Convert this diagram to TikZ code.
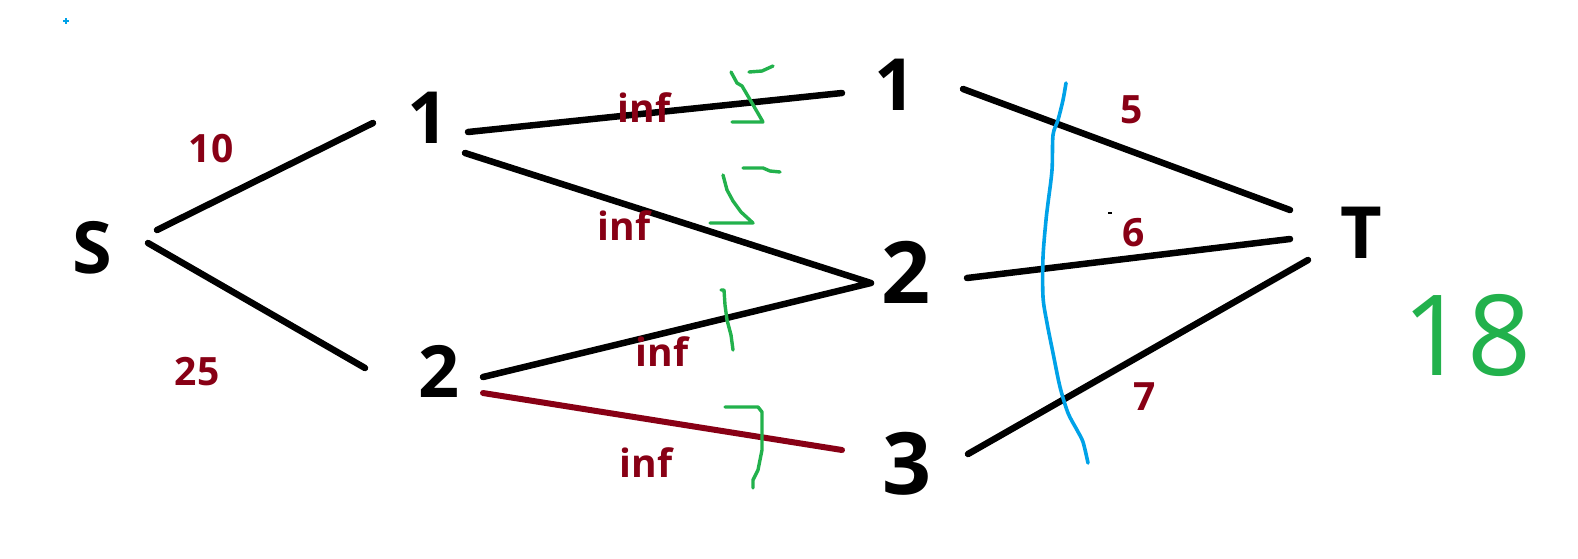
\documentclass[tikz,border=0pt]{standalone}
\usepackage{fontspec}
\setmainfont{Open Sans}
\definecolor{lab}{HTML}{880015}
\definecolor{mk}{HTML}{22B14C}
\definecolor{cut}{HTML}{00A2E8}
\tikzset{
  vtx/.style={inner sep=0pt, font=\fontsize{72}{72}\selectfont\bfseries},
  vtxbig/.style={inner sep=0pt, font=\fontsize{86}{86}\selectfont\bfseries},
  lbl/.style={inner sep=0pt, text=lab, font=\fontsize{39}{39}\selectfont\bfseries},
  edge/.style={line width=6.5pt, line cap=round, line join=round},
  redge/.style={edge, draw=lab, line width=6pt},
  tick/.style={draw=mk, line width=3.4pt, line cap=round, line join=round},
  cutline/.style={draw=cut, line width=3.6pt, line cap=round, line join=round},
  hand/.style={inner sep=0pt, text=mk, font=\fontsize{112}{112}\selectfont}
}
\begin{document}
\begin{tikzpicture}[x=1pt,y=-1pt]
\useasboundingbox[fill=white] (0,0) rectangle (1578,558);
% nodes
\node[vtx] (S) at (92,248) {S};
\node[vtx] (a1) at (428,118) {1};
\node[vtx] (a2) at (439,371) {2};
\node[vtx] (b1) at (895,85) {1};
\node[vtxbig] (b2) at (906,272) {2};
\node[vtxbig] (b3) at (907,464) {3};
\node[vtx] (T) at (1361,233) {T};
% connector end points
\coordinate (S-u) at (157,230);
\coordinate (S-d) at (148,243);
\coordinate (a1-l) at (373,123);
\coordinate (a1-u) at (468,132);
\coordinate (a1-d) at (465,153);
\coordinate (a2-l) at (365,368);
\coordinate (a2-u) at (483,377);
\coordinate (a2-d) at (483,393);
\coordinate (b1-l) at (842,93);
\coordinate (b1-r) at (963,89);
\coordinate (b2-l) at (871,283);
\coordinate (b2-r) at (967,278);
\coordinate (b3-l) at (842,450);
\coordinate (b3-r) at (968,454);
\coordinate (T-u) at (1290,210);
\coordinate (T-m) at (1290,239);
\coordinate (T-d) at (1308,260);
% edges
\draw[edge] (S-u) -- (a1-l);
\draw[edge] (S-d) -- (a2-l);
\draw[edge] (a1-u) -- (b1-l);
\draw[edge] (a1-d) -- (b2-l) -- (a2-u);
\draw[redge] (a2-d) -- (b3-l);
\draw[edge] (b1-r) -- (T-u);
\draw[edge] (b2-r) -- (T-m);
\draw[edge] (b3-r) -- (T-d);
% edge labels
\node[lbl] (l10) at (211,149) {10};
\node[lbl] (l25) at (197,372) {25};
\node[lbl] (i1) at (644,108) {inf};
\node[lbl] (i2) at (624,226) {inf};
\node[lbl] (i3) at (662,352) {inf};
\node[lbl] (i4) at (646,463) {inf};
\node[lbl] (l5) at (1132,110) {5};
\node[lbl] (l6) at (1134,233) {6};
\node[lbl] (l7) at (1145,397) {7};
% green marks
\draw[tick] (731,72) -- (737,83) -- (742,86) -- (752,103) -- (763,122) -- (732,122);
\draw[tick] (749,72) -- (762,71) -- (773,66);
\draw[tick] (723,175) -- (727,190) -- (733,201) -- (741,212) -- (753,223) -- (710,223);
\draw[tick] (743,168) -- (763,168) -- (770,171) -- (780,172);
\draw[tick] (721,290) -- (724,290) -- (725,305) -- (727,320) -- (731,335) -- (733,350);
\draw[tick] (725,407) -- (758,407) -- (762,412) -- (762,450) -- (758,470) -- (753,480) -- (753,488);
% cut
\draw[cutline] plot[smooth] coordinates {(1066,83) (1063,100) (1058,120) (1053,135) (1052,170) (1048,203) (1046,220) (1043,257) (1043,297) (1047,323) (1053,353) (1060,387) (1068,413) (1077,430) (1083,442) (1088,463)};
% small specks
\draw[cut, line width=1.3pt] (63,21) -- (69,21) (66,18) -- (66,24);
\draw[line width=1.5pt] (1108,213) -- (1112,213);
% handwritten result
\node[hand] (res) at (1467,335) {18};
\end{tikzpicture}
\end{document}
